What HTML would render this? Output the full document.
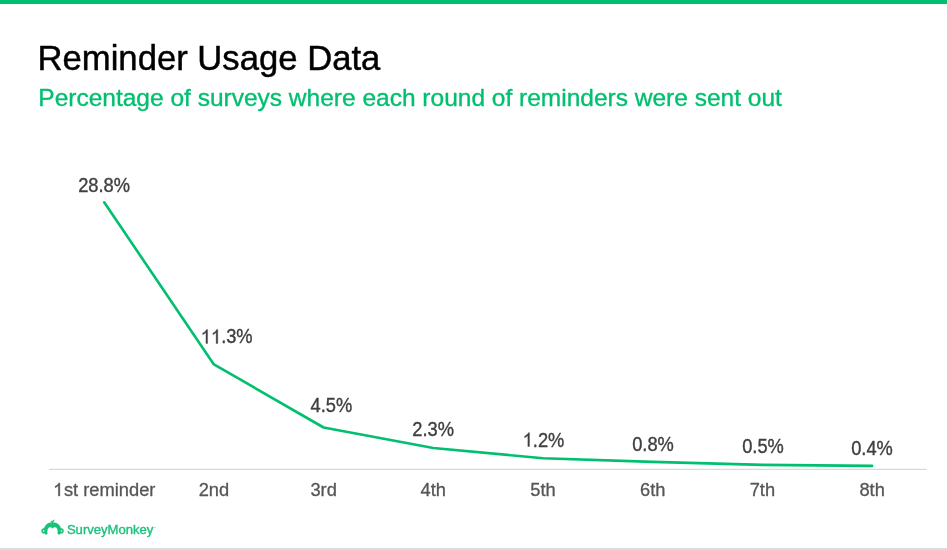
<!DOCTYPE html>
<html>
<head>
<meta charset="utf-8">
<title>Reminder Usage Data</title>
<style>
  html, body { margin: 0; padding: 0; background: #ffffff; }
  body { width: 947px; height: 550px; overflow: hidden; position: relative;
         font-family: "Liberation Sans", sans-serif; }
  svg { position: absolute; left: 0; top: 0; display: block; will-change: transform; }
  text { font-family: "Liberation Sans", sans-serif; paint-order: stroke; stroke-linejoin: round; }
  .h { fill: none; stroke: none; }
  .one { vector-effect: non-scaling-stroke; }
  .title { font-size: 34.66px; fill: #000000; stroke: #000000; stroke-width: 0.45px; }
  .sub { font-size: 24.51px; fill: #00bf6f; stroke: #00bf6f; stroke-width: 0.35px; }
  .val { font-size: 18.3px; fill: #3f3f3f; stroke: #3f3f3f; stroke-width: 0.35px; text-anchor: middle; }
  .cat { font-size: 18.3px; fill: #555555; stroke: #555555; stroke-width: 0.3px; text-anchor: middle; }
</style>
</head>
<body>
<svg width="947" height="550" viewBox="0 0 947 550">
  <!-- top brand bar -->
  <rect x="0" y="0" width="947" height="4" fill="#00bf6f"/>
  <!-- bottom edge -->
  <rect x="0" y="548" width="947" height="2" fill="#dcdcdc"/>

  <!-- headings -->
  <text class="title" transform="translate(37.50 70.30) scale(1 1.02)">Reminder Usage Data</text>
  <text class="sub" transform="translate(38.30 106.30) scale(1 1.0)">Percentage of surveys where each round of reminders were sent out</text>

  <!-- axis -->
  <line x1="49" y1="469.3" x2="926.5" y2="469.3" stroke="#d9d9d9" stroke-width="1.2"/>

  <!-- series -->
  <polyline fill="none" stroke="#00bf6f" stroke-width="2.6" stroke-linejoin="round" stroke-linecap="round" points="104.2,202.3 213.9,364.4 323.6,427.5 433.3,448.0 543.0,458.2 652.7,461.9 762.4,464.9 872.1,465.9"/>

  <!-- value labels -->
  <text class="val" transform="translate(104.10 192.10) scale(1 1.1)">28.8%</text>
  <g transform="translate(226.70 343.40) scale(1 1.1)"><text class="val"><tspan class="h">1</tspan><tspan class="h">1</tspan>.3%</text><path class="val one" d="M763 0H583V1147Q518 1085 412.5 1023T223 930V1104Q373 1174.5 485 1275T644 1470H763V0Z" transform="translate(-25.94 0) scale(0.00894 -0.00856)"/><path class="val one" d="M763 0H583V1147Q518 1085 412.5 1023T223 930V1104Q373 1174.5 485 1275T644 1470H763V0Z" transform="translate(-15.76 0) scale(0.00894 -0.00856)"/></g>
  <text class="val" transform="translate(331.30 412.40) scale(1 1.1)">4.5%</text>
  <text class="val" transform="translate(433.20 436.30) scale(1 1.1)">2.3%</text>
  <g transform="translate(543.50 446.50) scale(1 1.1)"><text class="val"><tspan class="h">1</tspan>.2%</text><path class="val one" d="M763 0H583V1147Q518 1085 412.5 1023T223 930V1104Q373 1174.5 485 1275T644 1470H763V0Z" transform="translate(-20.85 0) scale(0.00894 -0.00856)"/></g>
  <text class="val" transform="translate(653.00 450.50) scale(1 1.1)">0.8%</text>
  <text class="val" transform="translate(763.00 452.50) scale(1 1.1)">0.5%</text>
  <text class="val" transform="translate(872.00 454.60) scale(1 1.1)">0.4%</text>

  <!-- category labels -->
  <g transform="translate(104.60 496.00) scale(1 1.035)"><text class="cat"><tspan class="h">1</tspan>st reminder</text><path class="cat one" d="M763 0H583V1147Q518 1085 412.5 1023T223 930V1104Q373 1174.5 485 1275T644 1470H763V0Z" transform="translate(-51.52 0) scale(0.00894 -0.00856)"/></g>
  <text class="cat" transform="translate(213.90 496.00) scale(1 1.035)">2nd</text>
  <text class="cat" transform="translate(323.60 496.00) scale(1 1.035)">3rd</text>
  <text class="cat" transform="translate(433.30 496.00) scale(1 1.035)">4th</text>
  <text class="cat" transform="translate(543.00 496.00) scale(1 1.035)">5th</text>
  <text class="cat" transform="translate(652.70 496.00) scale(1 1.035)">6th</text>
  <text class="cat" transform="translate(762.40 496.00) scale(1 1.035)">7th</text>
  <text class="cat" transform="translate(872.10 496.00) scale(1 1.035)">8th</text>

  <!-- logo -->
  <g fill="#19c27a">
    <!-- ears -->
    <circle cx="43.9" cy="530.9" r="2.55"/>
    <circle cx="61.2" cy="530.9" r="2.55"/>
    <!-- head arch with face cut-out -->
    <path d="M43.6 530.6 C43.9 525.6 47.6 522.3 52.55 522.3 C57.5 522.3 61.2 525.6 61.5 530.6
             L60.0 534.3 C59.2 534.9 58.0 534.5 57.6 533.7
             C58.0 530.2 57.2 527.4 55.1 527.3 C53.9 527.3 53.0 527.9 52.55 528.7
             C52.1 527.9 51.2 527.3 50.0 527.3 C47.9 527.4 47.1 530.2 47.5 533.7
             C47.1 534.5 45.9 534.9 45.1 534.3 Z"/>
    <!-- leaf -->
    <path d="M50.2 521.3 Q51.6 520.6 52.4 520.9 Q53.0 519.9 54.7 519.6 Q54.5 521.3 53.2 522.0 L52.9 522.9 L51.9 522.9 L51.9 521.9 Q51.0 521.9 50.2 521.3 Z"/>
    <text x="66.9" y="533.7" font-size="11.9" stroke="#19c27a" stroke-width="0.35" textLength="86.5" lengthAdjust="spacingAndGlyphs">SurveyMonkey</text>
    <circle cx="154.9" cy="527.6" r="0.7" opacity="0.6"/>
  </g>
  <g fill="#bdeed8">
    <circle cx="43.7" cy="530.9" r="0.85"/>
    <circle cx="61.4" cy="530.9" r="0.85"/>
  </g>
</svg>
</body>
</html>
